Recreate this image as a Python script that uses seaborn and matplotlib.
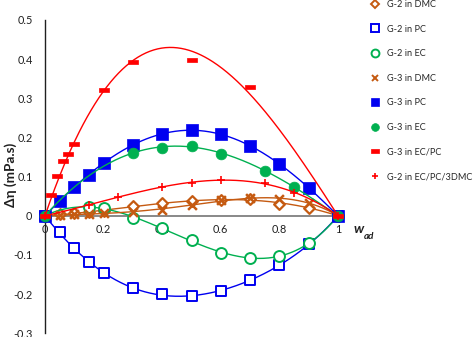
import numpy as np
import matplotlib
matplotlib.use("Agg")
import matplotlib.pyplot as plt
from matplotlib.path import Path
from matplotlib.lines import Line2D
import seaborn as sns

# ---------------- data ----------------
x_g2_dmc = [0, 0.05, 0.1, 0.15, 0.2, 0.3, 0.4, 0.5, 0.6, 0.7, 0.8, 0.9, 1]
y_g2_dmc = [0, 0.005, 0.007, 0.010, 0.012, 0.024, 0.033, 0.037, 0.040, 0.044, 0.031, 0.020, 0]

x_g2_pc = [0, 0.05, 0.1, 0.15, 0.2, 0.3, 0.4, 0.5, 0.6, 0.7, 0.8, 0.9, 1]
y_g2_pc = [0, -0.042, -0.082, -0.119, -0.147, -0.185, -0.199, -0.205, -0.192, -0.164, -0.126, -0.073, 0]

x_g2_ec = [0, 0.15, 0.2, 0.3, 0.4, 0.5, 0.6, 0.7, 0.8, 0.9, 1]
y_g2_ec = [0, 0.023, 0.019, -0.005, -0.032, -0.062, -0.094, -0.109, -0.102, -0.070, 0]

x_g3_dmc = [0, 0.05, 0.1, 0.15, 0.2, 0.3, 0.4, 0.5, 0.6, 0.7, 0.8, 0.9, 1]
y_g3_dmc = [0, 0.002, 0.004, 0.005, 0.006, 0.010, 0.016, 0.028, 0.040, 0.045, 0.043, 0.033, 0]

x_g3_pc = [0, 0.05, 0.1, 0.15, 0.2, 0.3, 0.4, 0.5, 0.6, 0.7, 0.8, 0.9, 1]
y_g3_pc = [0, 0.037, 0.074, 0.105, 0.136, 0.181, 0.209, 0.218, 0.209, 0.178, 0.133, 0.071, 0]

x_g3_ec = [0, 0.3, 0.4, 0.5, 0.6, 0.75, 0.85, 1]
y_g3_ec = [0, 0.161, 0.174, 0.179, 0.159, 0.115, 0.074, 0]

x_g3_ecpc = [0, 0.02, 0.04, 0.06, 0.08, 0.1, 0.2, 0.3, 0.5, 0.7, 1]
y_g3_ecpc = [0, 0.053, 0.102, 0.140, 0.159, 0.184, 0.320, 0.393, 0.399, 0.329, 0]

x_g2_ecpcdmc = [0, 0.15, 0.25, 0.4, 0.5, 0.6, 0.75, 0.85, 1]
y_g2_ecpcdmc = [0, 0.028, 0.048, 0.074, 0.085, 0.091, 0.083, 0.059, 0]

labels = ["G-2 in DMC", "G-2 in PC", "G-2 in EC", "G-3 in DMC",
          "G-3 in PC", "G-3 in EC", "G-3 in EC/PC", "G-2 in EC/PC/3DMC"]
x_ticks = [0, 0.2, 0.4, 0.6, 0.8, 1]
x_tick_labels = ["0", "0.2", "0.4", "0.6", "0.8", "1"]
y_ticks = [-0.3, -0.2, -0.1, 0, 0.1, 0.2, 0.3, 0.4, 0.5]
y_tick_labels = ["-0.3", "-0.2", "-0.1", "0", "0.1", "0.2", "0.3", "0.4", "0.5"]

# ---------------- style ----------------
BROWN = "#C55A11"
BLUE = "#0000F0"
GREEN = "#00B050"
RED = "#FF0000"

sns.set_style("white")
plt.rcParams["font.family"] = ["Lato", "DejaVu Sans"]

fig = plt.figure(figsize=(4.74, 3.37), dpi=100)
ax = fig.add_axes([45 / 474, 1 - 333.3 / 337, (338 - 45) / 474, (333.3 - 20) / 337])


def rk_fit(x, y, n, grid):
    x = np.asarray(x, float)
    y = np.asarray(y, float)
    m = (x > 0) & (x < 1)
    xs, ys = x[m], y[m]
    A = np.column_stack([xs * (1 - xs) * (2 * xs - 1) ** k for k in range(n)])
    c, *_ = np.linalg.lstsq(A, ys, rcond=None)
    G = np.column_stack([grid * (1 - grid) * (2 * grid - 1) ** k for k in range(n)])
    return G @ c


grid = np.linspace(0, 1, 300)

rect = Path([(-1, -0.42), (1, -0.42), (1, 0.42), (-1, 0.42), (-1, -0.42)],
            [Path.MOVETO, Path.LINETO, Path.LINETO, Path.LINETO, Path.CLOSEPOLY])

series = [
    (x_g2_dmc, y_g2_dmc, BROWN, 3, dict(marker="D", s=30, color="white", edgecolor=BROWN, linewidth=1.6)),
    (x_g2_pc, y_g2_pc, BLUE, 4, dict(marker="s", s=62, color="white", edgecolor=BLUE, linewidth=1.4)),
    (x_g2_ec, y_g2_ec, GREEN, 4, dict(marker="o", s=62, color="white", edgecolor=GREEN, linewidth=1.4)),
    (x_g3_dmc, y_g3_dmc, BROWN, 3, dict(marker="x", s=40, color=BROWN, linewidth=1.8)),
    (x_g3_pc, y_g3_pc, BLUE, 3, dict(marker="s", s=75, color=BLUE, edgecolor=BLUE, linewidth=0.5)),
    (x_g3_ec, y_g3_ec, GREEN, 3, dict(marker="o", s=60, color=GREEN, edgecolor=GREEN, linewidth=0.5)),
    (x_g3_ecpc, y_g3_ecpc, RED, 2, dict(marker=rect, s=55, color=RED, edgecolor=RED, linewidth=0.5)),
    (x_g2_ecpcdmc, y_g2_ecpcdmc, RED, 3, dict(marker="+", s=40, color=RED, linewidth=1.2)),
]

z = 2
for xs, ys, col, n, mk in series:
    yfit = rk_fit(xs, ys, n, grid)
    sns.lineplot(x=grid, y=yfit, color=col, linewidth=1.0, ax=ax, sort=False, zorder=z)
    sns.scatterplot(x=xs, y=ys, ax=ax, zorder=z + 1, clip_on=False, legend=False, **mk)
    z += 2

ax.set_xlim(0, 1)
ax.set_ylim(-0.3, 0.5)
ax.spines["top"].set_visible(False)
ax.spines["right"].set_visible(False)
ax.spines["bottom"].set_position(("data", 0))
ax.spines["bottom"].set_color("#7f7f7f")
ax.spines["bottom"].set_linewidth(1.3)
ax.spines["bottom"].set_zorder(1)
ax.spines["left"].set_color("#202020")
ax.spines["left"].set_linewidth(1.0)

ax.set_xticks(x_ticks)
ax.set_xticklabels(x_tick_labels)
ax.set_yticks(y_ticks)
ax.set_yticklabels(y_tick_labels)
ax.tick_params(axis="x", direction="out", length=3, width=0.8, color="#7f7f7f",
               labelsize=7.8, pad=3, colors="#202020")
ax.tick_params(axis="y", direction="out", length=4, width=0.8, color="#202020",
               labelsize=7.8, pad=5, colors="#202020")
ax.set_xlabel("")
ax.set_ylabel("")

fig.text(11 / 474, 1 - 175 / 337, "Δη (mPa.s)", rotation=90, ha="center", va="center",
         fontsize=9.8, fontweight="bold", color="#202020")
ax.text(1.07, -0.034, "w", fontsize=10, fontweight="bold", fontstyle="italic",
        ha="center", va="center", clip_on=False, color="#202020")
ax.text(1.105, -0.052, "ad", fontsize=7, fontweight="bold", fontstyle="italic",
        ha="center", va="center", clip_on=False, color="#202020")

handles = []
for (xs, ys, col, n, mk), lab in zip(series, labels):
    mfc = mk.get("color")
    mec = mk.get("edgecolor", mk.get("color"))
    marker = mk["marker"]
    ms = np.sqrt(mk["s"]) * 0.72
    handles.append(Line2D([], [], linestyle="none", marker=marker, markersize=ms,
                          markerfacecolor=mfc, markeredgecolor=mec,
                          markeredgewidth=min(mk.get("linewidth", 1.0), 1.4), label=lab))

fig.legend(handles=handles, loc="upper left", bbox_to_anchor=(370 / 474, 1 - 0 / 337),
           frameon=False, fontsize=6.6, labelspacing=1.7, handletextpad=0.9,
           handlelength=1.0, borderpad=0.0, borderaxespad=0.0)

fig.savefig("out.png", dpi=100, facecolor="white")
